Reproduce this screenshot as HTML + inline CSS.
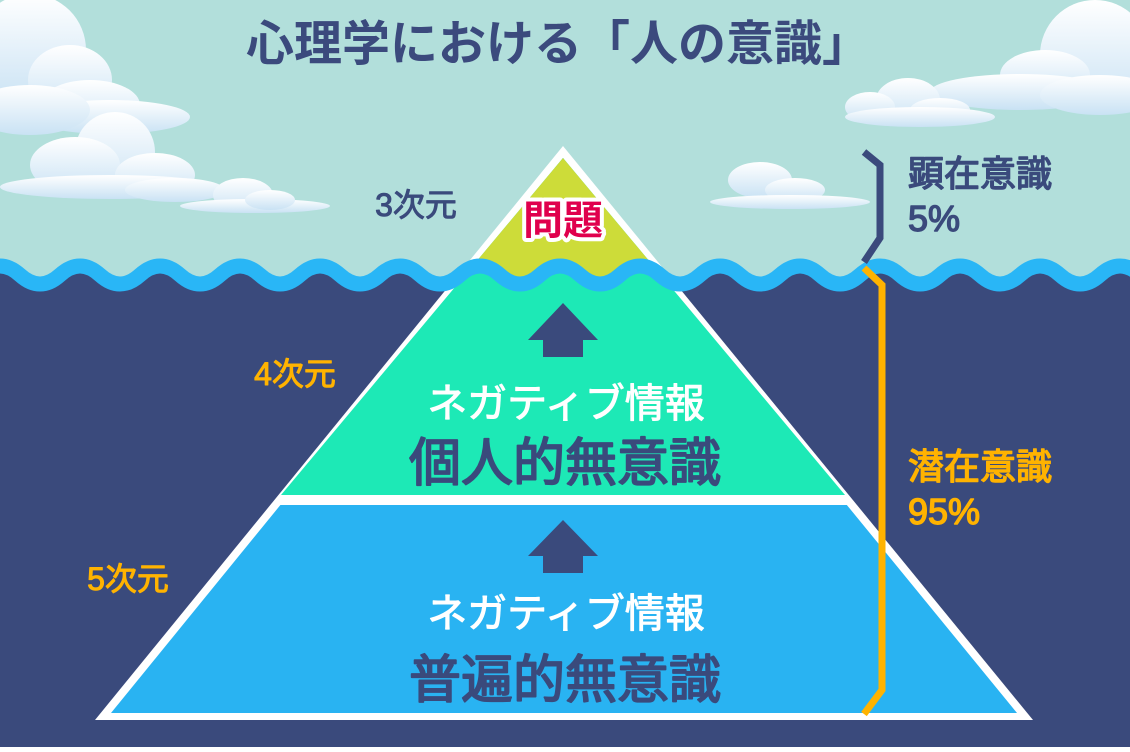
<!DOCTYPE html>
<html><head><meta charset="utf-8"><style>
body{margin:0;width:1130px;height:747px;overflow:hidden}
text{font-family:"Liberation Sans","Noto Sans CJK JP",sans-serif}
</style></head><body>
<svg width="1130" height="747" viewBox="0 0 1130 747" xmlns="http://www.w3.org/2000/svg">
<defs>
<linearGradient id="cg" x1="0" y1="0" x2="0" y2="1"><stop offset="0" stop-color="#ffffff"/><stop offset="1" stop-color="#c9e2f4"/></linearGradient>
<clipPath id="sky"><path d="M-20 268 Q0 250 20 268 T60 268 T100 268 T140 268 T180 268 T220 268 T260 268 T300 268 T340 268 T380 268 T420 268 T460 268 T500 268 T540 268 T580 268 T620 268 T660 268 T700 268 T740 268 T780 268 T820 268 T860 268 T900 268 T940 268 T980 268 T1020 268 T1060 268 T1100 268 T1140 268 T1180 268 L1180 0 L-20 0Z"/></clipPath>
</defs>
<rect width="1130" height="747" fill="#3a4a7c"/>
<rect x="0" y="0" width="1130" height="300" fill="#b2dfdb" clip-path="url(#sky)"/>
<!-- clouds -->
<g fill="url(#cg)">
<circle cx="30" cy="50" r="56"/><ellipse cx="70" cy="80" rx="42" ry="35"/><ellipse cx="90" cy="105" rx="50" ry="25"/><ellipse cx="110" cy="117" rx="80" ry="17"/><ellipse cx="30" cy="110" rx="60" ry="25"/>
<circle cx="115" cy="152" r="40"/><ellipse cx="75" cy="165" rx="45" ry="28"/><ellipse cx="155" cy="175" rx="40" ry="22"/><ellipse cx="110" cy="187" rx="110" ry="12"/><ellipse cx="175" cy="190" rx="50" ry="12"/>
<ellipse cx="243" cy="195" rx="30" ry="17"/><ellipse cx="255" cy="206" rx="75" ry="7"/><ellipse cx="270" cy="200" rx="25" ry="10"/>
<circle cx="1095" cy="55" r="55"/><ellipse cx="1045" cy="75" rx="45" ry="25"/><ellipse cx="1020" cy="92" rx="90" ry="18"/><ellipse cx="1100" cy="95" rx="60" ry="20"/>
<ellipse cx="908" cy="100" rx="32" ry="22"/><ellipse cx="870" cy="107" rx="25" ry="15"/><ellipse cx="940" cy="110" rx="30" ry="12"/><ellipse cx="920" cy="117" rx="75" ry="10"/>
<ellipse cx="760" cy="180" rx="32" ry="18"/><ellipse cx="795" cy="190" rx="30" ry="12"/><ellipse cx="790" cy="202" rx="80" ry="7"/>
</g>
<text x="558" y="60" font-size="48" font-weight="bold" fill="#3b4a7d" text-anchor="middle">心理学における「人の意識」</text>
<!-- pyramid -->
<polygon points="563,146 1033,720 95,720" fill="#fff"/>
<polygon points="563,158 1017,713 111,713" fill="#29b3f2"/>
<polygon points="563,158 845,495 281,495" fill="#1de9b6"/>
<polygon points="279,495 847,495 855,505 271,505" fill="#fff"/>
<polygon points="563,158 845,495 281,495" fill="#cddc39" clip-path="url(#sky)"/>
<!-- wave band -->
<path d="M-20 268 Q0 250 20 268 T60 268 T100 268 T140 268 T180 268 T220 268 T260 268 T300 268 T340 268 T380 268 T420 268 T460 268 T500 268 T540 268 T580 268 T620 268 T660 268 T700 268 T740 268 T780 268 T820 268 T860 268 T900 268 T940 268 T980 268 T1020 268 T1060 268 T1100 268 T1140 268 T1180 268" fill="none" stroke="#29b6f6" stroke-width="15" transform="translate(0,7)"/>
<!-- arrows -->
<polygon points="563,303 598,340 583,340 583,357 543,357 543,340 528,340" fill="#3a4a7c"/>
<polygon points="563,520 598,556 583,556 583,573 543,573 543,556 528,556" fill="#3a4a7c"/>
<!-- text -->
<g stroke-width="1" stroke-linejoin="round">
<text x="563" y="234" font-size="40" font-weight="bold" fill="#e0004d" text-anchor="middle" stroke="#fff" stroke-width="8" paint-order="stroke">問題</text>
<text x="416" y="216" font-size="32" fill="#3a4a7c" stroke="#3a4a7c" text-anchor="middle">3次元</text>
<text x="295" y="385" font-size="32" fill="#ffb300" stroke="#ffb300" text-anchor="middle">4次元</text>
<text x="128" y="590" font-size="32" fill="#ffb300" stroke="#ffb300" text-anchor="middle">5次元</text>
<text x="566" y="417" font-size="40" fill="#fff" stroke="#fff" text-anchor="middle">ネガティブ情報</text>
<text x="565" y="481" font-size="52" fill="#3a4a7c" stroke="#3a4a7c" stroke-width="1.8" text-anchor="middle">個人的無意識</text>
<text x="566" y="627" font-size="40" fill="#fff" stroke="#fff" text-anchor="middle">ネガティブ情報</text>
<text x="565" y="698" font-size="52" fill="#3a4a7c" stroke="#3a4a7c" stroke-width="1.8" text-anchor="middle">普遍的無意識</text>
<text x="908" y="186" font-size="36" fill="#3a4a7c" stroke="#3a4a7c" stroke-width="1.4">顕在意識</text>
<text x="908" y="231" font-size="36" fill="#3a4a7c" stroke="#3a4a7c" stroke-width="1.4">5%</text>
<text x="908" y="479" font-size="36" fill="#ffb300" stroke="#ffb300" stroke-width="1.4">潜在意識</text>
<text x="908" y="524" font-size="36" fill="#ffb300" stroke="#ffb300" stroke-width="1.4">95%</text>
</g>
<!-- brackets -->
<polyline points="864,152 880,165 880,238 864,262" fill="none" stroke="#3a4a7c" stroke-width="7"/>
<polyline points="864,268 882,285 882,690 864,714" fill="none" stroke="#ffb300" stroke-width="7"/>
</svg>
</body></html>
